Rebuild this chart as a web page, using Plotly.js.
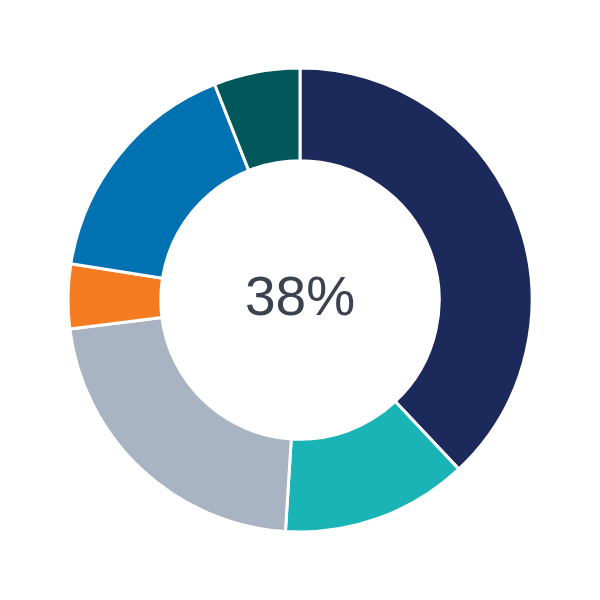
<!DOCTYPE html>
<html>
<head>
<meta charset="utf-8">
<script src="https://cdn.plot.ly/plotly-3.0.1.min.js"></script>
<style>
  html, body { margin: 0; padding: 0; background: #fff; }
  #chart { width: 600px; height: 600px; }
</style>
</head>
<body>
<div id="chart"></div>
<script>
const labels = ["A", "B", "C", "D", "E", "F"]
const values = [38, 13, 22, 4.5, 16.5, 6]
const colors = ["#1c2a5b", "#1bb4b6", "#a9b4c2", "#f47b20", "#0072b1", "#01575a"]
const centerLabel = "38%"

const donut = {
  type: 'pie',
  labels: labels,
  values: values,
  hole: 0.6,
  sort: false,
  direction: 'clockwise',
  rotation: 0,
  textinfo: 'none',
  hoverinfo: 'label+percent',
  marker: {colors: colors, line: {color: '#ffffff', width: 3}}
}

const layout = {
  width: 600,
  height: 600,
  showlegend: false,
  margin: {l: 68, r: 68, t: 68, b: 68},
  paper_bgcolor: '#ffffff',
  annotations: [{
    text: centerLabel,
    x: 0.5, y: 0.5, xref: 'paper', yref: 'paper',
    yshift: 4,
    showarrow: false,
    font: {family: 'Liberation Sans, Arial, sans-serif', size: 55, color: '#3b4250'}
  }]
}

Plotly.newPlot('chart', [donut], layout, {displayModeBar: false})
</script>
</body>
</html>
